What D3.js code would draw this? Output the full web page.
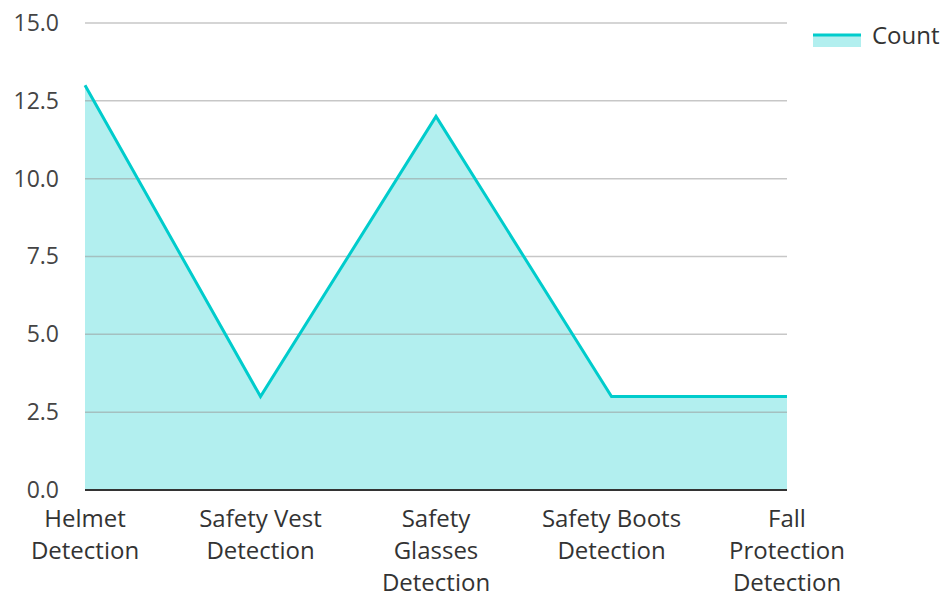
<!DOCTYPE html>
<html>
<head>
<meta charset="utf-8">
<script src="https://cdn.jsdelivr.net/npm/d3@7"></script>
<style>
body { margin: 0; background: #fff; }
text { font-family: "Open Sans", "Noto Sans", sans-serif; }
</style>
</head>
<body>
<div id="chart"></div>
<script>
var categories = [["Helmet", "Detection"], ["Safety Vest", "Detection"], ["Safety", "Glasses", "Detection"], ["Safety Boots", "Detection"], ["Fall", "Protection", "Detection"]];
var counts = [13, 3, 12, 3, 3];
var yTicks = [0, 2.5, 5, 7.5, 10, 12.5, 15];
var seriesName = "Count";

var w = 945, h = 594;
var margin = {top: 23, right: 158, bottom: 104, left: 85};
var width = w - margin.left - margin.right,
    height = h - margin.top - margin.bottom;

var lineColor = "#00cccc", fillColor = "#b2efef";

var svg = d3.select("#chart").append("svg").attr("width", w).attr("height", h);
var g = svg.append("g").attr("transform", "translate(" + margin.left + "," + margin.top + ")");

var x = d3.scalePoint().domain(d3.range(categories.length)).range([0, width]);
var y = d3.scaleLinear().domain([0, 15]).range([height, 0]);

var data = counts.map(function(v, i){ return {i: i, v: v}; });

var area = d3.area()
	.x(function(d){ return x(d.i); })
	.y0(height)
	.y1(function(d){ return y(d.v); });
var line = d3.line()
	.x(function(d){ return x(d.i); })
	.y(function(d){ return y(d.v); });

g.append("path").datum(data).attr("fill", fillColor).attr("d", area);

// grid lines over the fill
g.append("g").selectAll("line").data(yTicks.filter(function(t){ return t > 0; })).enter()
	.append("line")
	.attr("x1", 0).attr("x2", width)
	.attr("y1", function(d){ return y(d); }).attr("y2", function(d){ return y(d); })
	.attr("stroke", "#999").attr("stroke-opacity", 0.55).attr("stroke-width", 1.5);

g.append("path").datum(data)
	.attr("fill", "none")
	.attr("stroke", lineColor)
	.attr("stroke-width", 3)
	.attr("stroke-linejoin", "miter")
	.attr("d", line);

// baseline
g.append("line").attr("x1", 0).attr("x2", width).attr("y1", height).attr("y2", height)
	.attr("stroke", "#333").attr("stroke-width", 2);

var yAxis = g.append("g").call(d3.axisLeft(y).tickValues(yTicks).tickFormat(d3.format(".1f")).tickSize(0).tickPadding(26));
yAxis.select(".domain").remove();
yAxis.selectAll("text").attr("font-size", 23).attr("fill", "#444").attr("font-family", "'Open Sans', sans-serif");

var xl = g.append("g").selectAll("text").data(categories).enter()
	.append("text")
	.attr("x", function(d, i){ return x(i); })
	.attr("y", height + 37)
	.attr("text-anchor", "middle")
	.attr("font-size", 24)
	.attr("fill", "#333");
xl.selectAll("tspan").data(function(d){ return d; }).enter()
	.append("tspan")
	.attr("x", function(){ return d3.select(this.parentNode).attr("x"); })
	.attr("dy", function(d, i){ return i == 0 ? 0 : 32; })
	.text(function(d){ return d; });

// legend
var lg = svg.append("g").attr("transform", "translate(813,35)");
lg.append("rect").attr("x", 0).attr("y", 0).attr("width", 48).attr("height", 12).attr("fill", fillColor);
lg.append("line").attr("x1", 0).attr("x2", 48).attr("y1", 0).attr("y2", 0).attr("stroke", lineColor).attr("stroke-width", 3);
lg.append("text").attr("x", 59).attr("y", 9).attr("font-size", 24).attr("fill", "#333").text(seriesName);
</script>
</body>
</html>
